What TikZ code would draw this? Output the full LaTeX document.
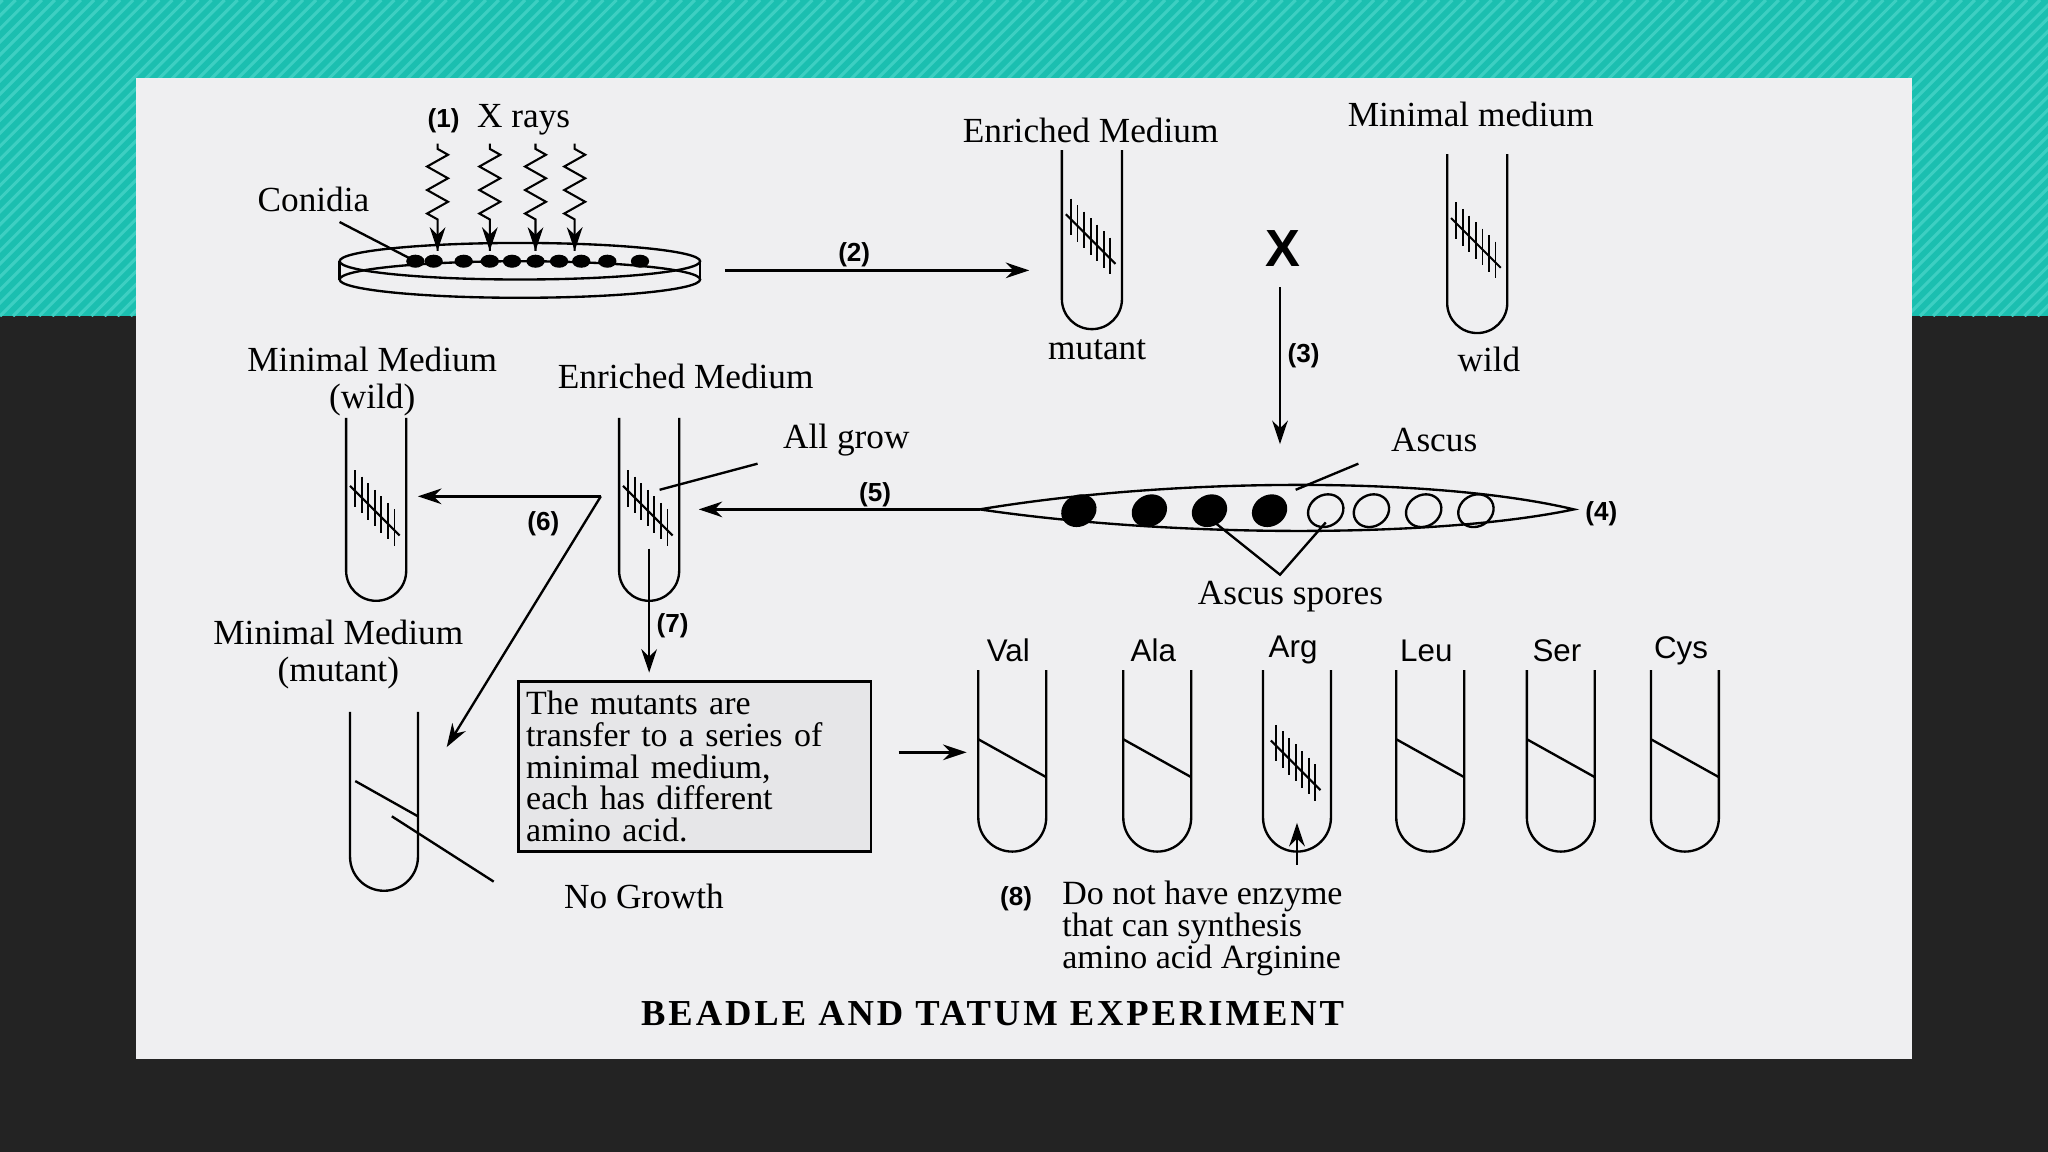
\documentclass[tikz,border=0pt]{standalone}
\usepackage{fontspec}
\setmainfont{Liberation Serif}
\newfontfamily\sansf{Liberation Sans}
\usetikzlibrary{arrows.meta,decorations.pathmorphing,calc}
\definecolor{teal1}{HTML}{1BBFB0}
\definecolor{teal2}{HTML}{3DCFC2}
\definecolor{darkbg}{HTML}{232323}
\definecolor{panel}{HTML}{EFEFF1}
\tikzset{
  lbl/.style={font=\fontsize{13.5}{14}\selectfont, inner sep=1pt},
  num/.style={font=\sansf\bfseries\fontsize{10}{11}\selectfont, inner sep=1pt},
  aa/.style={font=\sansf\fontsize{12}{13}\selectfont, inner sep=1pt},
  ln/.style={line width=0.9pt},
  arr/.style={line width=0.9pt,-{Stealth[length=9pt,width=6pt]}},
  zig/.style={line width=0.8pt,decorate,decoration={zigzag,amplitude=4pt,segment length=9pt,pre length=2pt,post length=10pt}},
}
\newcommand{\mytube}[4]{% cx top bot halfw
  \draw[ln] (#1-#4,#2) -- (#1-#4,#3-#4) arc (180:360:#4 and -#4) -- (#1+#4,#2);}
\newcommand{\myhatch}[2]{% cx cy
  \draw[line width=0.8pt] (#1-20,#2-18) -- (#1+18,#2+20);
  \foreach \i in {-16,-11,-6,-1,4,9,14}{\draw[line width=0.7pt] (#1+\i,#2+\i-14) -- (#1+\i,#2+\i+14);}}
\begin{document}
\begin{tikzpicture}[x=0.5pt,y=-0.5pt]
\useasboundingbox (0,0) rectangle (1568,882);
\fill[darkbg] (0,0) rectangle (1568,882);
\fill[teal1] (0,0) rectangle (1568,242);
\begin{scope}
\clip (0,0) rectangle (1568,242);
\foreach \k in {-300,-290,...,1600}{\draw[teal2,line width=1.2pt] (\k,242) -- (\k+242,0);}
\end{scope}
\fill[panel] (104,60) rectangle (1464,811);

% step 1
\node[lbl] (xr) at (382,92) {\textbf{\sansf\fontsize{10}{11}\selectfont(1)}\ \ X rays};
\foreach \x/\n in {335/a,375/b,410/c,440/d}{
  \coordinate (zs\n) at (\x,110); \coordinate (ze\n) at (\x,192);
  \draw[zig] (zs\n) -- (ze\n);
  \draw[arr] ($(zs\n)!0.85!(ze\n)$) -- (ze\n);}
\node[lbl] (con) at (240,153) {Conidia};
\coordinate (conE) at (318,200);
\draw[ln] (260,170) -- (conE);
\draw[ln] (398,200) ellipse (138 and 14);
\draw[ln] (260,200) -- (260,214); \draw[ln] (536,200) -- (536,214);
\draw[ln] (398,214) ellipse (138 and 14);
\foreach \x in {318,332,355,375,392,410,428,445,465,490}{\fill (\x,200) ellipse (7 and 5);}
% step 2
\coordinate (a2s) at (555,207); \coordinate (a2e) at (788,207);
\draw[arr] (a2s) -- (a2e);
\node[num] (n2) at (654,195) {(2)};
\node[lbl] (em1) at (835,100) {Enriched Medium};
\mytube{836}{115}{252}{23}
\myhatch{836}{182}
\node[lbl] (mut) at (840,268) {mutant};
\node[font=\sansf\bfseries\fontsize{20}{20}\selectfont] (X) at (982,190) {X};
\node[lbl] (mm1) at (1126,88) {Minimal medium};
\mytube{1131}{118}{255}{23}
\myhatch{1131}{185}
\node[lbl] (wild) at (1140,275) {wild};
\coordinate (a3s) at (980,220); \coordinate (a3e) at (980,340);
\draw[arr] (a3s) -- (a3e);
\node[num] (n3) at (998,272) {(3)};
% ascus
\draw[ln] (750,390) .. controls (900,365) and (1100,365) .. (1205,390) .. controls (1100,412) and (900,412) .. (750,390);
\foreach \x in {826,880,926,972}{\fill[rotate around={30:(\x,391)}] (\x,391) ellipse (14 and 12);}
\foreach \x in {1015,1050,1090,1130}{\draw[ln,rotate around={30:(\x,391)}] (\x,391) ellipse (14 and 12);}
\node[num] (n4) at (1226,393) {(4)};
\node[lbl] (asc) at (1098,337) {Ascus};
\draw[ln] (1040,355) -- (992,375);
\node[lbl] (asp) at (988,457) {Ascus spores};
\draw[ln] (930,400) -- (980,440) -- (1015,400);
% step 5
\coordinate (a5s) at (750,390); \coordinate (a5e) at (535,390);
\draw[arr] (a5s) -- (a5e);
\node[num] (n5) at (670,379) {(5)};
\node[lbl] (em2) at (525,288) {Enriched Medium};
\mytube{497}{320}{460}{23}
\myhatch{497}{390}
\node[lbl] (ag) at (648,337) {All grow};
\draw[ln] (580,355) -- (505,375);
% step 6
\coordinate (a6s) at (460,380); \coordinate (a6e) at (320,380); \coordinate (a6f) at (342,572);
\draw[arr] (a6s) -- (a6e);
\draw[arr] (a6s) -- (a6f);
\node[num] (n6) at (416,401) {(6)};
\node[lbl,align=center] (mmw) at (285,292) {Minimal Medium\\(wild)};
\mytube{288}{320}{460}{23}
\myhatch{288}{390}
% step 7
\coordinate (a7s) at (497,420); \coordinate (a7e) at (497,515);
\draw[arr] (a7s) -- (a7e);
\node[num] (n7) at (515,479) {(7)};
\node[lbl,align=center] (mmm) at (259,501) {Minimal Medium\\(mutant)};
\mytube{294}{545}{682}{26}
\draw[ln] (272,598) -- (320,625);
\draw[ln] (300,625) -- (378,675);
\node[lbl] (ng) at (493,686) {No Growth};
\node[draw,fill=panel!92!gray,ln,text width=129pt,minimum height=65pt,inner sep=3pt,align=left,anchor=north west,font=\fontsize{13}{12.2}\selectfont] (box) at (396,521)
 {The mutants are\\transfer to a series of\\minimal medium,\\each has different\\amino acid.};
\coordinate (a8s) at (688,576); \coordinate (a8e) at (740,576);
\draw[arr] (a8s) -- (a8e);
% six tubes
\foreach \x/\t in {775/Val,886/Ala,993/Arg,1095/Leu,1195/Ser,1290/Cys}{
  \node[aa] (t\t) at (\x-3,498) {\t};
  \mytube{\x}{513}{652}{26}
}
\foreach \x in {775,886,1095,1195,1290}{\draw[ln] (\x-26,566) -- (\x+26,595);}
\myhatch{993}{585}
\coordinate (a9s) at (993,662); \coordinate (a9e) at (993,630);
\draw[arr] (a9s) -- (a9e);
\node[num] (n8) at (778,688) {(8)};
\node[lbl,align=left,anchor=north west,font=\fontsize{13}{12.3}\selectfont] (enz) at (811,672) {Do not have enzyme\\that can synthesis\\amino acid Arginine};
\node[font=\bfseries\fontsize{14}{14}\selectfont] (title) at (760,776) {\addfontfeature{LetterSpace=8}BEADLE AND TATUM EXPERIMENT};
\end{tikzpicture}
\end{document}
